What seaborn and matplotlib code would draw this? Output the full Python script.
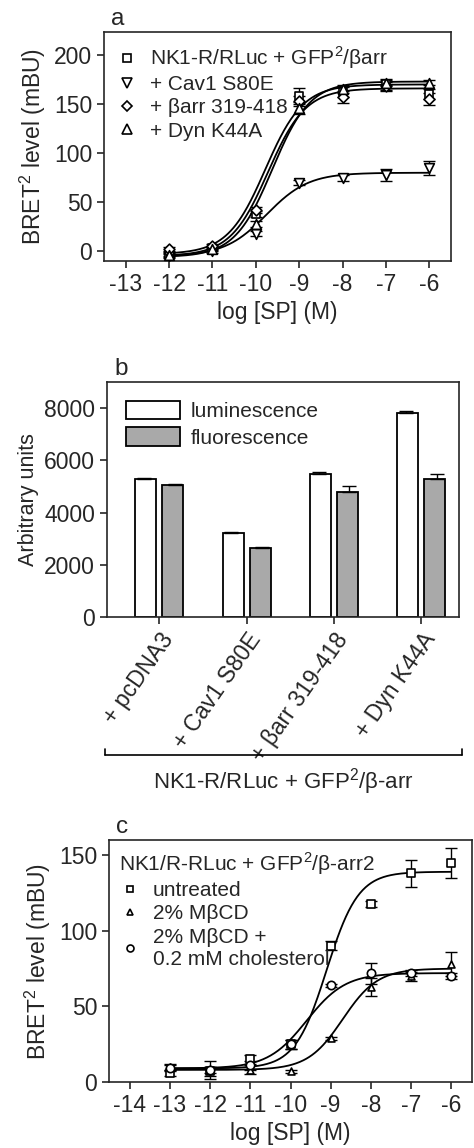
import numpy as np
import pandas as pd
import matplotlib
matplotlib.use("Agg")
import matplotlib.pyplot as plt
import seaborn as sns

sns.set_theme(style="ticks")
plt.rcParams['font.family'] = ['Liberation Sans', 'DejaVu Sans']
plt.rcParams['mathtext.fontset'] = 'custom'
plt.rcParams['mathtext.rm'] = 'Liberation Sans'
plt.rcParams['axes.unicode_minus'] = False

# ---- panel a data ----
a_x = [-12, -11, -10, -9, -8, -7, -6]
a_names = ["NK1-R/RLuc + GFP$^{2}$/βarr", "+ Cav1 S80E", "+ βarr 319-418", "+ Dyn K44A"]
a_nk1 = [-3, 3, 38, 158, 162, 170, 160]
a_cav = [-5, 0, 18, 70, 75, 78, 85]
a_barr = [2, 5, 42, 153, 157, 168, 155]
a_dyn = [-4, 2, 28, 146, 165, 172, 172]
a_nk1_err = [2, 2, 3, 8, 5, 6, 5]
a_cav_err = [2, 2, 3, 3, 3, 6, 7]
a_barr_err = [2, 2, 3, 5, 6, 5, 6]
a_dyn_err = [2, 2, 3, 6, 4, 3, 3]
# fitted sigmoid params: bottom, top, logEC50, hill
a_fits = [(-5, 166, -9.72, 1.0), (-5, 80, -9.75, 0.9), (-3, 170, -9.78, 1.0), (-6, 173, -9.62, 1.0)]
a_markers = ["s", "v", "D", "^"]
a_msize = [6, 7, 5.5, 7]

# ---- panel b data ----
b_cats = ["+ pcDNA3", "+ Cav1 S80E", "+ βarr 319-418", "+ Dyn K44A"]
b_lum = [5270, 3230, 5480, 7820]
b_lum_err = [60, 30, 60, 60]
b_flu = [5060, 2650, 4780, 5270]
b_flu_err = [40, 40, 250, 200]

# ---- panel c data ----
c_x = [-13, -12, -11, -10, -9, -8, -7, -6]
c_names = ["untreated", "2% MβCD", "2% MβCD +\n0.2 mM cholesterol"]
c_unt = [6, 7, 15, 25, 90, 118, 138, 145]
c_mb = [10, 8, 8, 7, 29, 63, 70, 78]
c_chol = [9, 8, 11, 25, 64, 72, 72, 70]
c_unt_err = [2, 3, 3, 3, 3, 2, 9, 10]
c_mb_err = [2, 2, 3, 1, 1, 6, 3, 8]
c_chol_err = [2, 6, 3, 3, 1, 7, 2, 2]
c_fits = [(9, 139, -9.1, 1.1), (8, 75, -8.7, 1.0), (9, 72, -9.6, 0.9)]
c_markers = ["s", "^", "o"]
c_msize = [6, 5, 6]

def sig(x, b, t, e, h):
    return b + (t - b) / (1 + 10 ** ((e - x) * h))

W, H = 474, 1148
fig = plt.figure(figsize=(W / 100, H / 100), dpi=100)

def rect(l, t, r, b):
    return [l / W, 1 - b / H, (r - l) / W, (b - t) / H]

FS = 16.5
LFS = 15
# ---- a ----
ax = fig.add_axes(rect(104, 32, 451, 261))
series = [(a_nk1, a_nk1_err), (a_cav, a_cav_err), (a_barr, a_barr_err), (a_dyn, a_dyn_err)]
xs = np.linspace(-12, -6, 300)
handles = []
for i, (y, e) in enumerate(series):
    df = pd.DataFrame({"x": a_x, "y": y})
    sns.lineplot(x=xs, y=sig(xs, *a_fits[i]), color="black", lw=1.3, ax=ax)
    ax.errorbar(a_x, y, yerr=e, fmt="none", ecolor="black", elinewidth=1, capsize=4)
    sns.scatterplot(data=df, x="x", y="y", marker=a_markers[i], s=a_msize[i] ** 2,
                    facecolor="white", edgecolor="black", linewidth=1.2, ax=ax, zorder=5)
    handles.append(plt.Line2D([], [], ls="none", marker=a_markers[i], ms=a_msize[i] - 0.5,
                              mfc="white", mec="black", mew=1.2))
ax.set_xlim(-13.5, -5.5)
ax.set_ylim(-10, 223.5)
ax.set_xticks(range(-13, -5))
ax.set_yticks([0, 50, 100, 150, 200])
ax.set_xlabel("log [SP] (M)", fontsize=FS)
ax.set_ylabel("BRET$^{2}$ level (mBU)", fontsize=FS)
ax.tick_params(labelsize=FS, width=1.2, length=5)
ax.legend(handles, a_names, loc="upper left", frameon=False, fontsize=LFS,
          handletextpad=0.6, borderaxespad=0.2, labelspacing=0.2, handlelength=1)
ax.text(0.02, 1.01, "a", transform=ax.transAxes, fontsize=FS + 1, va="bottom")

# ---- b ----
ax = fig.add_axes(rect(107, 382, 459, 617))
dfb = pd.DataFrame({"cat": b_cats * 2, "val": b_lum + b_flu,
                    "kind": ["luminescence"] * 4 + ["fluorescence"] * 4})
sns.barplot(data=dfb, x="cat", y="val", hue="kind", palette=["white", "#a9a9a9"],
            edgecolor="black", linewidth=1.3, width=0.62, ax=ax, errorbar=None)
bw = 0.24
for p in ax.patches:
    if p.get_height() <= 0 and p.get_width() == 0:
        continue
    c = p.get_x() + p.get_width() / 2
    p.set_width(bw)
    p.set_x(c - bw / 2)
pos = np.arange(4)
off = 0.31 - bw / 2 - 0.015
ax.errorbar(pos - off, b_lum, yerr=[np.zeros(4), b_lum_err], fmt="none", ecolor="black", elinewidth=1, capsize=5)
ax.errorbar(pos + off, b_flu, yerr=[np.zeros(4), b_flu_err], fmt="none", ecolor="black", elinewidth=1, capsize=5)
ax.set_ylim(0, 9000)
ax.set_xlim(-0.6, 3.43)
ax.set_yticks([0, 2000, 4000, 6000, 8000])
ax.set_xlabel("")
ax.set_ylabel("Arbitrary units", fontsize=FS - 1)
ax.tick_params(labelsize=FS, width=1.2, length=5)
ax.set_xticks(pos)
ax.set_xticklabels(b_cats, rotation=55, ha="right", rotation_mode="anchor", fontsize=FS)
leg = ax.legend(loc="upper left", frameon=False, fontsize=LFS, handlelength=2.6,
                handleheight=1.0, borderaxespad=0.5, labelspacing=0.3, handletextpad=0.5)
ax.text(0.02, 1.01, "b", transform=ax.transAxes, fontsize=FS + 1, va="bottom")
# bracket
yb = 1 - 755 / H
fig.add_artist(plt.Line2D([105 / W, 462 / W], [yb, yb], color="black", lw=1.2))
for xp in (105, 462):
    fig.add_artist(plt.Line2D([xp / W, xp / W], [yb, yb + 6 / H], color="black", lw=1.2))
fig.text(283 / W, 1 - 782 / H, "NK1-R/RLuc + GFP$^{2}$/β-arr", ha="center", va="center", fontsize=FS - 0.5)

# ---- c ----
ax = fig.add_axes(rect(109, 840, 472, 1082))
series = [(c_unt, c_unt_err), (c_mb, c_mb_err), (c_chol, c_chol_err)]
xs = np.linspace(-13, -6, 300)
handles = []
for i, (y, e) in enumerate(series):
    df = pd.DataFrame({"x": c_x, "y": y})
    sns.lineplot(x=xs, y=sig(xs, *c_fits[i]), color="black", lw=1.3, ax=ax)
    ax.errorbar(c_x, y, yerr=e, fmt="none", ecolor="black", elinewidth=1, capsize=4)
    sns.scatterplot(data=df, x="x", y="y", marker=c_markers[i], s=c_msize[i] ** 2,
                    facecolor="white", edgecolor="black", linewidth=1.2, ax=ax, zorder=5)
    handles.append(plt.Line2D([], [], ls="none", marker=c_markers[i], ms=c_msize[i] - 1,
                              mfc="white", mec="black", mew=1.2))
ax.set_xlim(-14.52, -5.48)
ax.set_ylim(0, 160)
ax.set_xticks(range(-14, -5))
ax.set_yticks([0, 50, 100, 150])
ax.set_xlabel("log [SP] (M)", fontsize=FS)
ax.set_ylabel("BRET$^{2}$ level (mBU)", fontsize=FS)
ax.tick_params(labelsize=FS, width=1.2, length=5)
ax.legend(handles, c_names, loc="upper left", frameon=False, fontsize=LFS,
          title="NK1/R-RLuc + GFP$^{2}$/β-arr2", title_fontsize=LFS,
          handletextpad=0.6, borderaxespad=0.1, labelspacing=0.2, handlelength=1)._legend_box.align = "left"
ax.text(0.02, 1.01, "c", transform=ax.transAxes, fontsize=FS + 1, va="bottom")

for a in fig.axes:
    for sp in a.spines.values():
        sp.set_linewidth(1.2)

fig.savefig("out.png", dpi=100)
